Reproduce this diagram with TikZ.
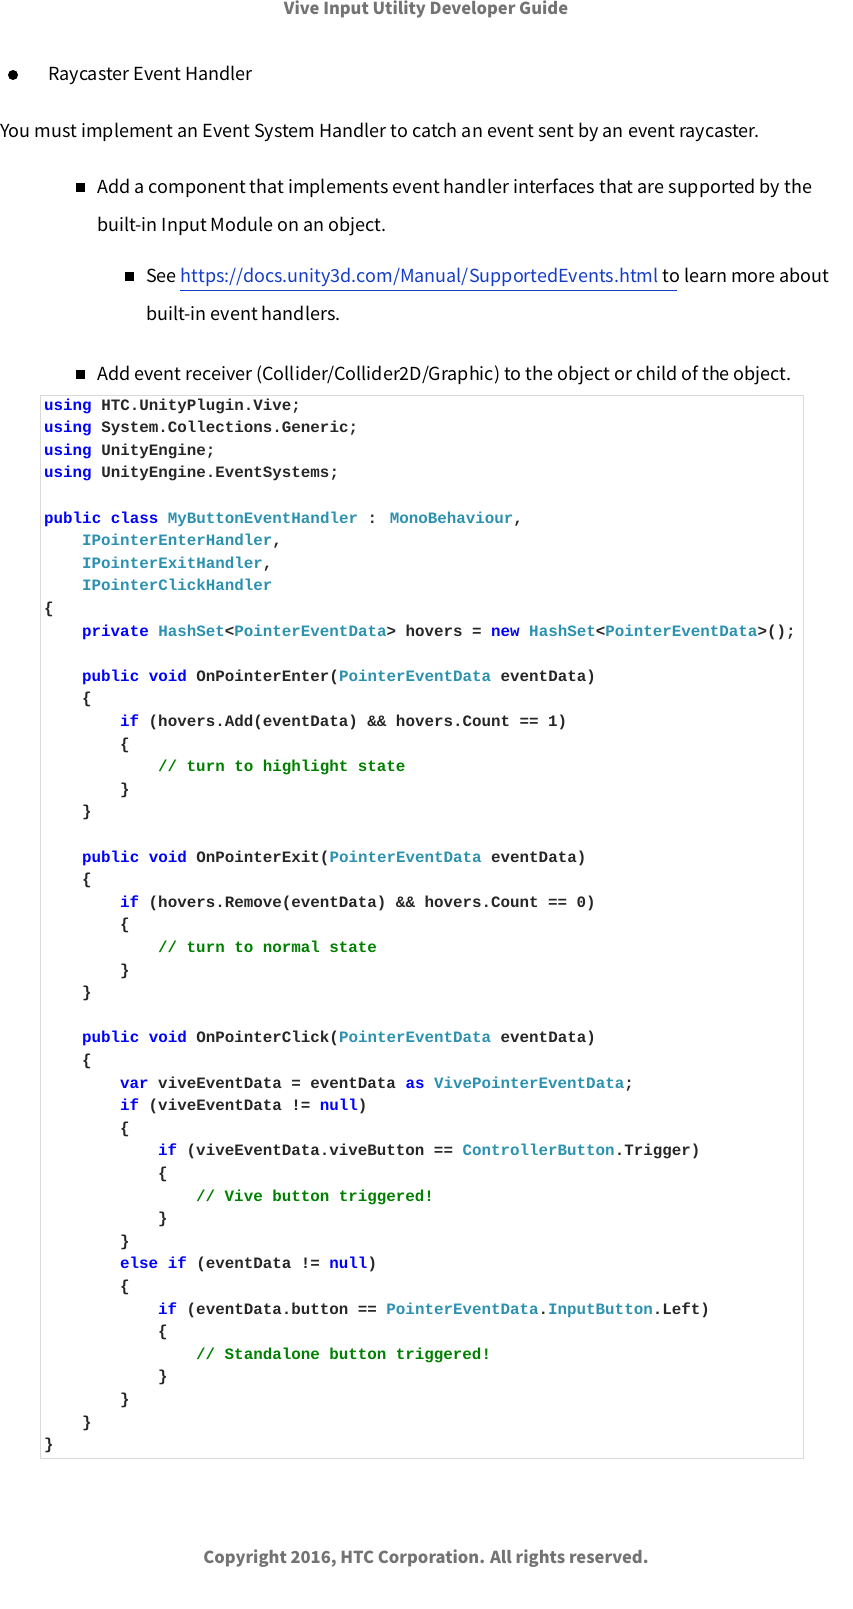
\documentclass[tikz,border=0pt]{standalone}
\usepackage{fontspec}
\setmainfont{Noto Sans CJK SC}
\newfontfamily\codefont{Liberation Mono}[FontFace={b}{n}{Liberation Mono Bold}]
\definecolor{kw}{RGB}{0,0,255}
\definecolor{ty}{RGB}{43,145,175}
\definecolor{cm}{RGB}{0,128,0}
\definecolor{lnk}{RGB}{20,60,200}
\newcommand\kw[1]{\textcolor{kw}{#1}}
\newcommand\ty[1]{\textcolor{ty}{#1}}
\newcommand\cmt[1]{\textcolor{cm}{#1}}
\tikzset{
 txt/.style={anchor=base west,inner sep=0pt,font=\fontsize{18}{20}\selectfont},
 code/.style={anchor=base west,inner sep=0pt,font=\codefont\bfseries\fontsize{15.85}{18}\selectfont,text=black!85},
 grayhead/.style={anchor=base,inner sep=0pt,font=\bfseries\fontsize{16.5}{20}\selectfont,text=black!55},
 sq/.style={fill=black,minimum size=9pt,inner sep=0pt}
}
\newcommand\cl[3]{\node[code] (c#1) at ({(44+#2*38)*1pt},{-(410+(#1-1)*22.6)*1pt}) {#3};}
\begin{document}
\begin{tikzpicture}[x=1pt,y=1pt]
\useasboundingbox (0,0) rectangle (853,-1609);
\node[grayhead] (head) at (426,-14) {Vive Input Utility Developer Guide};
\fill (13,-75) circle (5) coordinate (b1);
\node[txt] (t1) at (48,-80) {Raycaster Event Handler};
\node[txt] (t2) at (0,-137) {You must implement an Event System Handler to catch an event sent by an event raycaster.};
\node[sq] (s1) at (80,-187) {};
\node[txt] (t3) at (97,-193) {Add a component that implements event handler interfaces that are supported by the};
\node[txt] (t4) at (97,-231) {built-in Input Module on an object.};
\node[sq] (s2) at (129,-276) {};
\node[txt] (t5) at (146,-282) {See \textcolor{lnk}{https://docs.unity3d.com/Manual/SupportedEvents.html} to learn more about};
\draw[lnk,line width=0.8] (180,-290) -- (677,-290);
\node[txt] (t6) at (146,-320) {built-in event handlers.};
\node[sq] (s3) at (80,-374) {};
\node[txt] (t7) at (97,-380) {Add event receiver (Collider/Collider2D/Graphic) to the object or child of the object.};
\draw[black!15,line width=1] (40,-395) rectangle (803,-1458);
\cl{1}{0}{\kw{using} HTC.UnityPlugin.Vive;}
\cl{2}{0}{\kw{using} System.Collections.Generic;}
\cl{3}{0}{\kw{using} UnityEngine;}
\cl{4}{0}{\kw{using} UnityEngine.EventSystems;}
\cl{6}{0}{\kw{public class} \ty{MyButtonEventHandler} : \ty{MonoBehaviour},}
\cl{7}{1}{\ty{IPointerEnterHandler},}
\cl{8}{1}{\ty{IPointerExitHandler},}
\cl{9}{1}{\ty{IPointerClickHandler}}
\cl{10}{0}{\{}
\cl{11}{1}{\kw{private} \ty{HashSet}<\ty{PointerEventData}> hovers = \kw{new} \ty{HashSet}<\ty{PointerEventData}>();}
\cl{13}{1}{\kw{public void} OnPointerEnter(\ty{PointerEventData} eventData)}
\cl{14}{1}{\{}
\cl{15}{2}{\kw{if} (hovers.Add(eventData) \&\& hovers.Count == 1)}
\cl{16}{2}{\{}
\cl{17}{3}{\cmt{// turn to highlight state}}
\cl{18}{2}{\}}
\cl{19}{1}{\}}
\cl{21}{1}{\kw{public void} OnPointerExit(\ty{PointerEventData} eventData)}
\cl{22}{1}{\{}
\cl{23}{2}{\kw{if} (hovers.Remove(eventData) \&\& hovers.Count == 0)}
\cl{24}{2}{\{}
\cl{25}{3}{\cmt{// turn to normal state}}
\cl{26}{2}{\}}
\cl{27}{1}{\}}
\cl{29}{1}{\kw{public void} OnPointerClick(\ty{PointerEventData} eventData)}
\cl{30}{1}{\{}
\cl{31}{2}{\kw{var} viveEventData = eventData \kw{as} \ty{VivePointerEventData};}
\cl{32}{2}{\kw{if} (viveEventData != \kw{null})}
\cl{33}{2}{\{}
\cl{34}{3}{\kw{if} (viveEventData.viveButton == \ty{ControllerButton}.Trigger)}
\cl{35}{3}{\{}
\cl{36}{4}{\cmt{// Vive button triggered!}}
\cl{37}{3}{\}}
\cl{38}{2}{\}}
\cl{39}{2}{\kw{else if} (eventData != \kw{null})}
\cl{40}{2}{\{}
\cl{41}{3}{\kw{if} (eventData.button == \ty{PointerEventData}.\ty{InputButton}.Left)}
\cl{42}{3}{\{}
\cl{43}{4}{\cmt{// Standalone button triggered!}}
\cl{44}{3}{\}}
\cl{45}{2}{\}}
\cl{46}{1}{\}}
\cl{47}{0}{\}}
\node[grayhead] (foot) at (426,-1563) {Copyright 2016, HTC Corporation. All rights reserved.};
\end{tikzpicture}
\end{document}
